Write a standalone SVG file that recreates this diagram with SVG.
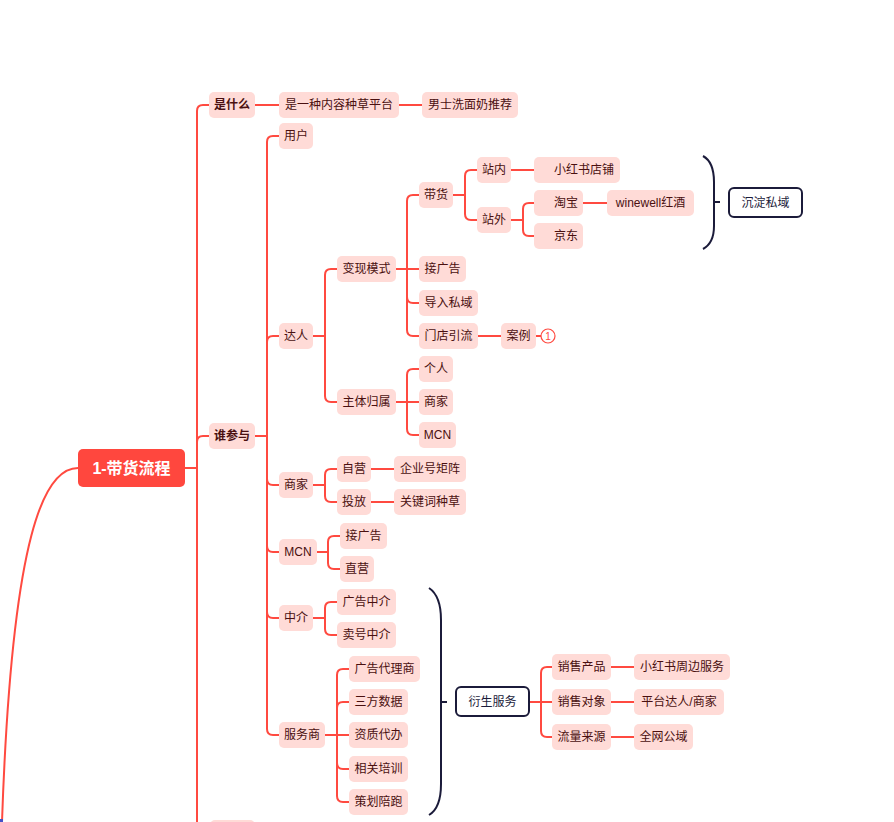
<svg xmlns="http://www.w3.org/2000/svg" width="894" height="822" viewBox="0 0 894 822">
<style>
.n rect{fill:#FFDBD7;}
.n text, .b text{font-family:"Liberation Sans","Noto Sans CJK SC",sans-serif;font-size:12px;fill:#4a1010;dominant-baseline:central;text-anchor:middle;}
.bold text{font-weight:bold;}
.c path{fill:none;stroke:#FF4A40;stroke-width:2;}
.br path{fill:none;stroke:#1b1b3a;stroke-width:2;}
.b rect{fill:#ffffff;stroke:#1b1b3a;stroke-width:2;}
.b text{fill:#1b1b3a;}
.lt{text-anchor:start !important;}
</style>
<rect width="894" height="822" fill="#ffffff"/>
<g class="c" id="connectors">
<path d="M78 468 C45 468 12 530 2 822"/>
<path d="M185 468 H197 V111 Q197 105 203 105 H209"/>
<path d="M185 468 H197 V442 Q197 436 203 436 H209"/>
<path d="M185 468 H197 V827 Q197 833 203 833 H210"/>
<path d="M255 105 H279"/>
<path d="M399 105 H422"/>
<path d="M255 436 H267 V142 Q267 136 273 136 H279"/>
<path d="M255 436 H267 V342 Q267 336 273 336 H279"/>
<path d="M255 436 H267 V479 Q267 485 273 485 H279"/>
<path d="M255 436 H267 V546 Q267 552 273 552 H279"/>
<path d="M255 436 H267 V612 Q267 618 273 618 H279"/>
<path d="M255 436 H267 V729 Q267 735 273 735 H279"/>
<path d="M313 336 H325 V275 Q325 269 331 269 H337"/>
<path d="M313 336 H325 V396 Q325 402 331 402 H337"/>
<path d="M396 269 H407 V201 Q407 195 413 195 H419"/>
<path d="M396 269 H419"/>
<path d="M396 269 H407 V297 Q407 303 413 303 H419"/>
<path d="M396 269 H407 V330 Q407 336 413 336 H419"/>
<path d="M453 195 H465 V176 Q465 170 471 170 H477"/>
<path d="M453 195 H465 V214 Q465 220 471 220 H477"/>
<path d="M511 170 H534"/>
<path d="M511 220 H523 V209 Q523 203 529 203 H534"/>
<path d="M511 220 H523 V230 Q523 236 529 236 H534"/>
<path d="M583 203 H607"/>
<path d="M478 336 H501"/>
<path d="M536 336 H541"/>
<path d="M396 402 H407 V375 Q407 369 413 369 H419"/>
<path d="M396 402 H419"/>
<path d="M396 402 H407 V429 Q407 435 413 435 H419"/>
<path d="M313 485 H325 V475 Q325 469 331 469 H337"/>
<path d="M313 485 H325 V496 Q325 502 331 502 H337"/>
<path d="M371 469 H394"/>
<path d="M371 502 H394"/>
<path d="M317 552 H328 V542 Q328 536 334 536 H340"/>
<path d="M317 552 H328 V563 Q328 569 334 569 H340"/>
<path d="M313 618 H325 V608 Q325 602 331 602 H337"/>
<path d="M313 618 H325 V629 Q325 635 331 635 H337"/>
<path d="M325 735 H337 V675 Q337 669 343 669 H349"/>
<path d="M325 735 H337 V708 Q337 702 343 702 H349"/>
<path d="M325 735 H349"/>
<path d="M325 735 H337 V763 Q337 769 343 769 H349"/>
<path d="M325 735 H337 V796 Q337 802 343 802 H349"/>
<path d="M529 702 H541 V673 Q541 667 547 667 H552"/>
<path d="M529 702 H552"/>
<path d="M529 702 H541 V731 Q541 737 547 737 H552"/>
<path d="M611 667 H634"/>
<path d="M611 702 H634"/>
<path d="M611 737 H634"/>
</g>
<g class="br" id="brackets">
<path d="M703 156 Q714 162 714 182 V226 Q714 243 703 249"/>
<path d="M714 202 H720"/>
<path d="M429 588 Q441 596 441 620 V784 Q441 808 429 815"/>
<path d="M441 702 H447"/>
</g>
<rect x="0" y="819" width="3" height="3" fill="#4450c8"/>
<g id="root"><rect x="78" y="449" width="107" height="38" rx="5" fill="#FF473E"/><text x="131.5" y="468" font-family="Liberation Sans,Noto Sans CJK SC,sans-serif" font-size="16" font-weight="bold" fill="#ffffff" text-anchor="middle" dominant-baseline="central">1-带货流程</text></g>
<g class="n bold" id="n-what"><rect x="209" y="92" width="46" height="26" rx="5"/><text x="232" y="105">是什么</text></g>
<g class="n bold" id="n-who"><rect x="209" y="423" width="46" height="26" rx="5"/><text x="232" y="436">谁参与</text></g>
<g class="n" id="n-next"><rect x="210" y="820" width="45" height="26" rx="5"/></g>
<g class="n" id="n-platform"><rect x="279" y="92" width="120" height="26" rx="5"/><text x="339" y="105">是一种内容种草平台</text></g>
<g class="n" id="n-face"><rect x="422" y="92" width="96" height="26" rx="5"/><text x="470" y="105">男士洗面奶推荐</text></g>
<g class="n" id="n-user"><rect x="279" y="123" width="34" height="26" rx="5"/><text x="296" y="136">用户</text></g>
<g class="n" id="n-daren"><rect x="279" y="323" width="34" height="26" rx="5"/><text x="296" y="336">达人</text></g>
<g class="n" id="n-shangjia"><rect x="279" y="472" width="34" height="26" rx="5"/><text x="296" y="485">商家</text></g>
<g class="n" id="n-mcn"><rect x="279" y="539" width="38" height="26" rx="5"/><text x="298" y="552">MCN</text></g>
<g class="n" id="n-zhongjie"><rect x="279" y="605" width="34" height="26" rx="5"/><text x="296" y="618">中介</text></g>
<g class="n" id="n-fuwu"><rect x="279" y="722" width="46" height="26" rx="5"/><text x="302" y="735">服务商</text></g>
<g class="n" id="n-bianxian"><rect x="337" y="256" width="59" height="26" rx="5"/><text x="366.5" y="269">变现模式</text></g>
<g class="n" id="n-zhuti"><rect x="337" y="389" width="59" height="26" rx="5"/><text x="366.5" y="402">主体归属</text></g>
<g class="n" id="n-daihuo"><rect x="419" y="182" width="34" height="26" rx="5"/><text x="436" y="195">带货</text></g>
<g class="n" id="n-jieguanggao"><rect x="419" y="256" width="47" height="26" rx="5"/><text x="442.5" y="269">接广告</text></g>
<g class="n" id="n-siyu"><rect x="419" y="290" width="59" height="26" rx="5"/><text x="448.5" y="303">导入私域</text></g>
<g class="n" id="n-mendian"><rect x="419" y="323" width="59" height="26" rx="5"/><text x="448.5" y="336">门店引流</text></g>
<g class="n" id="n-anli"><rect x="501" y="323" width="35" height="26" rx="5"/><text x="518.5" y="336">案例</text></g>
<g id="n-badge"><circle cx="548" cy="336" r="7" fill="#ffffff" stroke="#FF4A40" stroke-width="1.2"/><text x="548" y="336.5" font-family="Liberation Sans,sans-serif" font-size="10" fill="#FF4A40" text-anchor="middle" dominant-baseline="central">1</text></g>
<g class="n" id="n-zhannei"><rect x="477" y="157" width="34" height="26" rx="5"/><text x="494" y="170">站内</text></g>
<g class="n" id="n-zhanwai"><rect x="477" y="207" width="34" height="26" rx="5"/><text x="494" y="220">站外</text></g>
<g class="n" id="n-xhsshop"><rect x="534" y="157" width="86" height="26" rx="5"/><text class="lt" x="554" y="170">小红书店铺</text></g>
<g class="n" id="n-taobao"><rect x="534" y="190" width="49" height="26" rx="5"/><text class="lt" x="554" y="203">淘宝</text></g>
<g class="n" id="n-jd"><rect x="534" y="223" width="49" height="26" rx="5"/><text class="lt" x="554" y="236">京东</text></g>
<g class="n" id="n-wine"><rect x="607" y="190" width="87" height="26" rx="5"/><text x="650.5" y="203">winewell红酒</text></g>
<g class="b" id="n-chendian"><rect x="729" y="188" width="73" height="29" rx="5"/><text x="765.5" y="202.5">沉淀私域</text></g>
<g class="n" id="n-geren"><rect x="419" y="356" width="34" height="26" rx="5"/><text x="436" y="369">个人</text></g>
<g class="n" id="n-shangjia2"><rect x="419" y="389" width="34" height="26" rx="5"/><text x="436" y="402">商家</text></g>
<g class="n" id="n-mcn2"><rect x="419" y="422" width="37" height="26" rx="5"/><text x="437.5" y="435">MCN</text></g>
<g class="n" id="n-ziying"><rect x="337" y="456" width="34" height="26" rx="5"/><text x="354" y="469">自营</text></g>
<g class="n" id="n-toufang"><rect x="337" y="489" width="34" height="26" rx="5"/><text x="354" y="502">投放</text></g>
<g class="n" id="n-qiye"><rect x="394" y="456" width="72" height="26" rx="5"/><text x="430" y="469">企业号矩阵</text></g>
<g class="n" id="n-guanjianci"><rect x="394" y="489" width="72" height="26" rx="5"/><text x="430" y="502">关键词种草</text></g>
<g class="n" id="n-mcn-ad"><rect x="340" y="523" width="47" height="26" rx="5"/><text x="363.5" y="536">接广告</text></g>
<g class="n" id="n-mcn-zy"><rect x="340" y="556" width="34" height="26" rx="5"/><text x="357" y="569">直营</text></g>
<g class="n" id="n-adzj"><rect x="337" y="589" width="59" height="26" rx="5"/><text x="366.5" y="602">广告中介</text></g>
<g class="n" id="n-maihao"><rect x="337" y="622" width="59" height="26" rx="5"/><text x="366.5" y="635">卖号中介</text></g>
<g class="n" id="n-daili"><rect x="349" y="656" width="71" height="26" rx="5"/><text x="384.5" y="669">广告代理商</text></g>
<g class="n" id="n-sanfang"><rect x="349" y="689" width="59" height="26" rx="5"/><text x="378.5" y="702">三方数据</text></g>
<g class="n" id="n-zizhi"><rect x="349" y="722" width="59" height="26" rx="5"/><text x="378.5" y="735">资质代办</text></g>
<g class="n" id="n-peixun"><rect x="349" y="756" width="59" height="26" rx="5"/><text x="378.5" y="769">相关培训</text></g>
<g class="n" id="n-cehua"><rect x="349" y="789" width="59" height="26" rx="5"/><text x="378.5" y="802">策划陪跑</text></g>
<g class="b" id="n-yansheng"><rect x="456" y="687" width="73" height="29" rx="5"/><text x="492.5" y="701.5">衍生服务</text></g>
<g class="n" id="n-xscp"><rect x="552" y="654" width="59" height="26" rx="5"/><text x="581.5" y="667">销售产品</text></g>
<g class="n" id="n-xsdx"><rect x="552" y="689" width="59" height="26" rx="5"/><text x="581.5" y="702">销售对象</text></g>
<g class="n" id="n-llly"><rect x="552" y="724" width="59" height="26" rx="5"/><text x="581.5" y="737">流量来源</text></g>
<g class="n" id="n-zhoubian"><rect x="634" y="654" width="96" height="26" rx="5"/><text x="682" y="667">小红书周边服务</text></g>
<g class="n" id="n-pingtai"><rect x="634" y="689" width="90" height="26" rx="5"/><text x="679" y="702">平台达人/商家</text></g>
<g class="n" id="n-quanwang"><rect x="634" y="724" width="59" height="26" rx="5"/><text x="663.5" y="737">全网公域</text></g>
</svg>
